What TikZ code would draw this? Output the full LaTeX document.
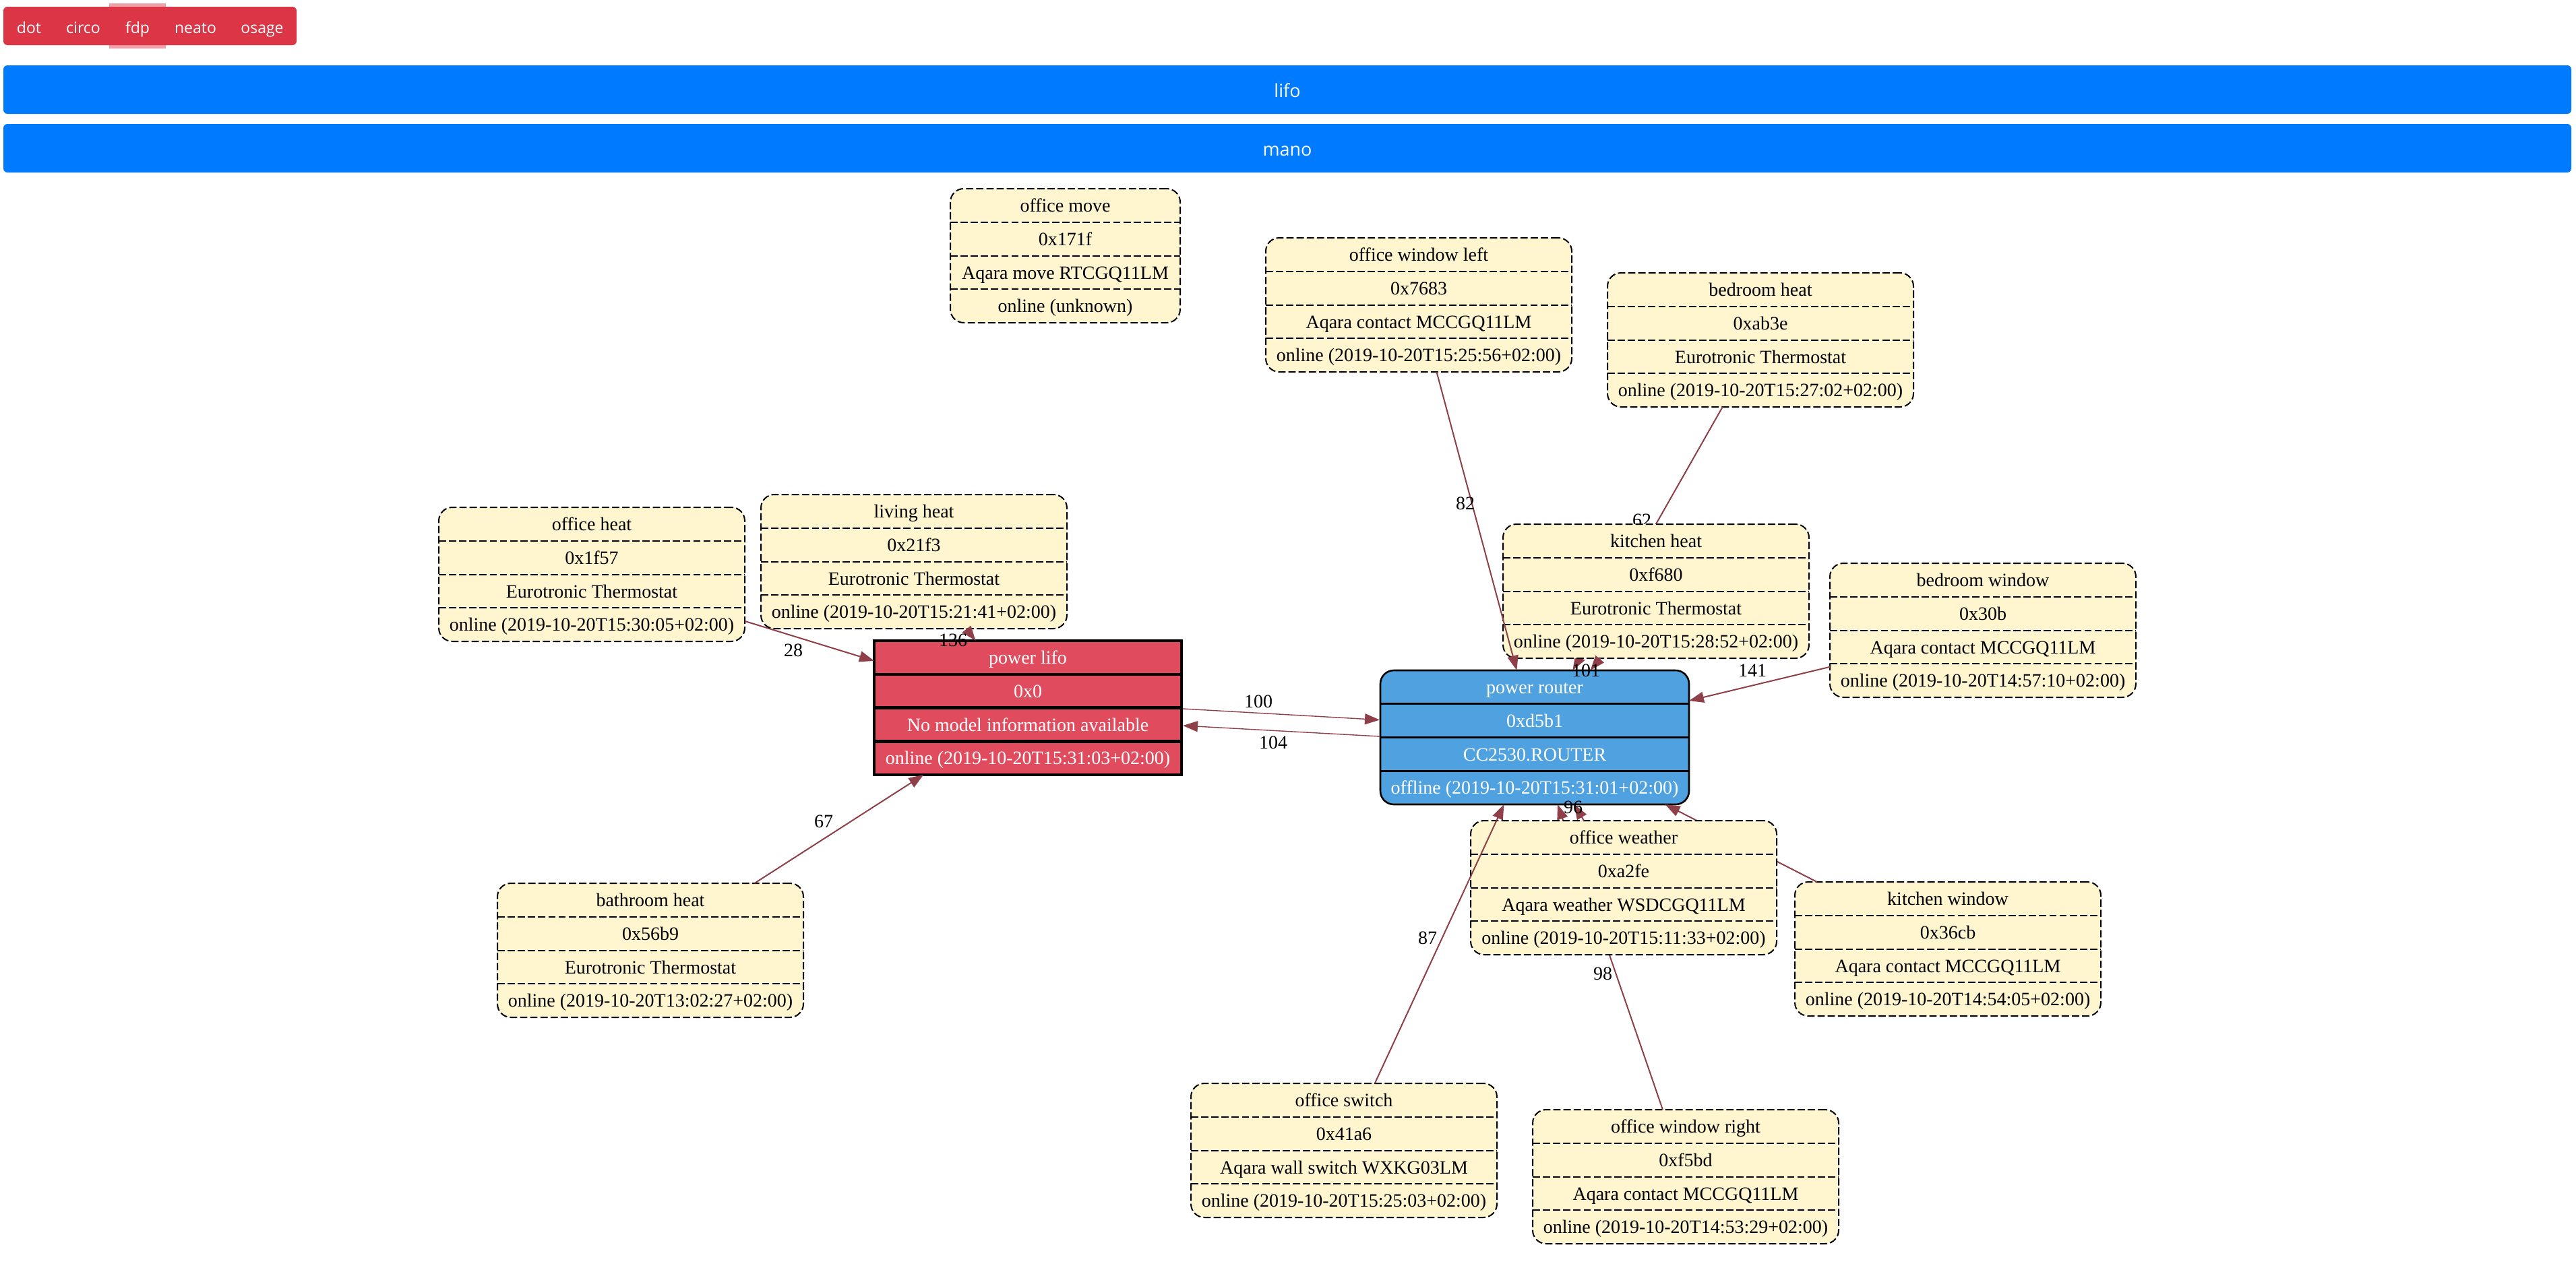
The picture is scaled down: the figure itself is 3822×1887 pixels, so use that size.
\documentclass[tikz,border=0pt]{standalone}
\usepackage{fontspec}
\setmainfont{Liberation Serif}
\newfontfamily\uifont{Open Sans}
\usetikzlibrary{arrows.meta}
\definecolor{edgec}{HTML}{8E3F47}
\definecolor{devfill}{HTML}{FFF6CF}
\definecolor{routerfill}{HTML}{4FA1E0}
\definecolor{lifofill}{HTML}{E04C5E}
\definecolor{groupred}{HTML}{DC3545}
\definecolor{focusred}{HTML}{EFA0A8}
\definecolor{barblue}{HTML}{007BFF}
\tikzset{
  x=1pt,y=-1pt,
  graphfont/.style={font=\fontsize{28}{28}\selectfont},
  shapebase/.style={rectangle,inner sep=0pt,outer sep=0pt,minimum height=199pt},
  devshape/.style={shapebase,draw=black,fill=devfill,line width=2pt,rounded corners=20pt,dash pattern=on 10.8pt off 4.3pt},
  devline/.style={draw=black,line width=2pt,dash pattern=on 10.8pt off 4.3pt},
  devtext/.style={inner sep=0pt,anchor=base,text=black,graphfont},
  rtrshape/.style={shapebase,draw=black,fill=routerfill,line width=2.6pt,rounded corners=20pt},
  rtrline/.style={draw=black,line width=2.6pt},
  rtrtext/.style={inner sep=0pt,anchor=base,text=white,graphfont},
  lfoshape/.style={shapebase,draw=black,fill=lifofill,line width=4.5pt},
  lfoline/.style={draw=black,line width=4.5pt},
  lfotext/.style={inner sep=0pt,anchor=base,text=white,graphfont},
  lbl/.style={inner sep=0pt,text=black,graphfont},
  link/.style={draw=edgec,line width=2pt,-{Triangle[length=22pt,width=16pt,fill=edgec]}},
  thinlink/.style={link,line width=1.4pt},
  uibtn/.style={inner sep=0pt,anchor=base,text=white,font=\uifont\fontsize{23}{23}\selectfont},
  uibar/.style={fill=barblue,rounded corners=6pt},
  uibig/.style={inner sep=0pt,anchor=base,text=white,font=\uifont\fontsize{27}{27}\selectfont},
}
% kind, name, left, top, width, four rows
\newcommand{\recnode}[9]{%
  \node[#1shape,minimum width=#5pt,anchor=north west] (#2) at (#3,#4) {};
  \draw[#1line] ({#3},{#4+49.75}) -- ({#3+#5},{#4+49.75});
  \draw[#1line] ({#3},{#4+99.5}) -- ({#3+#5},{#4+99.5});
  \draw[#1line] ({#3},{#4+149.25}) -- ({#3+#5},{#4+149.25});
  \node[#1text] (#2r1) at ({#3+#5/2},{#4+34}) {#6};
  \node[#1text] (#2r2) at ({#3+#5/2},{#4+84}) {#7};
  \node[#1text] (#2r3) at ({#3+#5/2},{#4+134}) {#8};
  \node[#1text] (#2r4) at ({#3+#5/2},{#4+183.5}) {#9};
}
\begin{document}
\begin{tikzpicture}
\useasboundingbox (0,0) rectangle (3822,1887);
\fill[white] (0,0) rectangle (3822,1887);
% toolbar
\fill[focusred] (162,5) rectangle (246,72);
\fill[groupred,rounded corners=6pt] (5,10) rectangle (440,67);
\node[uibtn] (bdot) at (43,49) {dot};
\node[uibtn] (bcirco) at (123.5,49) {circo};
\node[uibtn] (bfdp) at (204,49) {fdp};
\node[uibtn] (bneato) at (290,49) {neato};
\node[uibtn] (bosage) at (389,49) {osage};
\fill[uibar] (5,97) rectangle (3815,169);
\fill[uibar] (5,184) rectangle (3815,256);
\node[uibig] (blifo) at (1910,144) {lifo};
\node[uibig] (bmano) at (1910,231) {mano};
% graph
\recnode{rtr}{router}{2048}{995}{458}{power router}{0xd5b1}{CC2530.ROUTER}{offline (2019-10-20T15:31:01+02:00)}
\recnode{lfo}{lifo}{1297}{951}{456}{power lifo}{0x0}{No model information available}{online (2019-10-20T15:31:03+02:00)}
\recnode{dev}{bedroomheat}{2385}{405}{454}{bedroom heat}{0xab3e}{Eurotronic Thermostat}{online (2019-10-20T15:27:02+02:00)}
\draw[link] (bedroomheat) -- (router);
\node[lbl] (l62) at (2436,772) {62};
\recnode{dev}{windowright}{2274}{1647}{454}{office window right}{0xf5bd}{Aqara contact MCCGQ11LM}{online (2019-10-20T14:53:29+02:00)}
\draw[link] (windowright) -- (router);
\node[lbl] (l98) at (2378,1445) {98};
\recnode{dev}{kitchenwindow}{2663}{1309}{454}{kitchen window}{0x36cb}{Aqara contact MCCGQ11LM}{online (2019-10-20T14:54:05+02:00)}
\draw[link] (kitchenwindow) -- (router);
\recnode{dev}{officeweather}{2182}{1218}{454}{office weather}{0xa2fe}{Aqara weather WSDCGQ11LM}{online (2019-10-20T15:11:33+02:00)}
\draw[link] (officeweather) -- (router);
\recnode{dev}{kitchenheat}{2230}{778}{454}{kitchen heat}{0xf680}{Eurotronic Thermostat}{online (2019-10-20T15:28:52+02:00)}
\draw[link] (kitchenheat) -- (router);
\recnode{dev}{windowleft}{1878}{353}{454}{office window left}{0x7683}{Aqara contact MCCGQ11LM}{online (2019-10-20T15:25:56+02:00)}
\draw[link] (windowleft) -- (router);
\recnode{dev}{officeswitch}{1767}{1608}{454}{office switch}{0x41a6}{Aqara wall switch WXKG03LM}{online (2019-10-20T15:25:03+02:00)}
\draw[link] (officeswitch) -- (router);
\recnode{dev}{bedroomwindow}{2715}{836}{454}{bedroom window}{0x30b}{Aqara contact MCCGQ11LM}{online (2019-10-20T14:57:10+02:00)}
\draw[link] (bedroomwindow) -- (router);
\recnode{dev}{officeheat}{651}{753}{454}{office heat}{0x1f57}{Eurotronic Thermostat}{online (2019-10-20T15:30:05+02:00)}
\draw[link] (officeheat) -- (lifo);
\recnode{dev}{livingheat}{1129}{734}{454}{living heat}{0x21f3}{Eurotronic Thermostat}{online (2019-10-20T15:21:41+02:00)}
\draw[link] (livingheat) -- (lifo);
\recnode{dev}{bathroomheat}{738}{1311}{454}{bathroom heat}{0x56b9}{Eurotronic Thermostat}{online (2019-10-20T13:02:27+02:00)}
\draw[link] (bathroomheat) -- (lifo);
\recnode{dev}{officemove}{1410}{280}{341}{office move}{0x171f}{Aqara move RTCGQ11LM}{online (unknown)}
\coordinate (hundredfrom) at (1755,1052);
\coordinate (hundredto) at (2047,1068.5);
\coordinate (backfrom) at (2047,1093);
\coordinate (backto) at (1755,1077);
\draw[thinlink] (hundredfrom) -- (hundredto);
\draw[thinlink] (backfrom) -- (backto);
% labels on top
\node[lbl] (l82) at (2174,747) {82};
\node[lbl] (l101) at (2353,995) {101};
\node[lbl] (l141) at (2600,995) {141};
\node[lbl] (l96) at (2334,1198) {96};
\node[lbl] (l87) at (2118,1392) {87};
\node[lbl] (l100) at (1867,1041) {100};
\node[lbl] (l104) at (1889,1102) {104};
\node[lbl] (l28) at (1177,965) {28};
\node[lbl] (l136) at (1414,950) {136};
\node[lbl] (l67) at (1222,1219) {67};
\end{tikzpicture}
\end{document}
